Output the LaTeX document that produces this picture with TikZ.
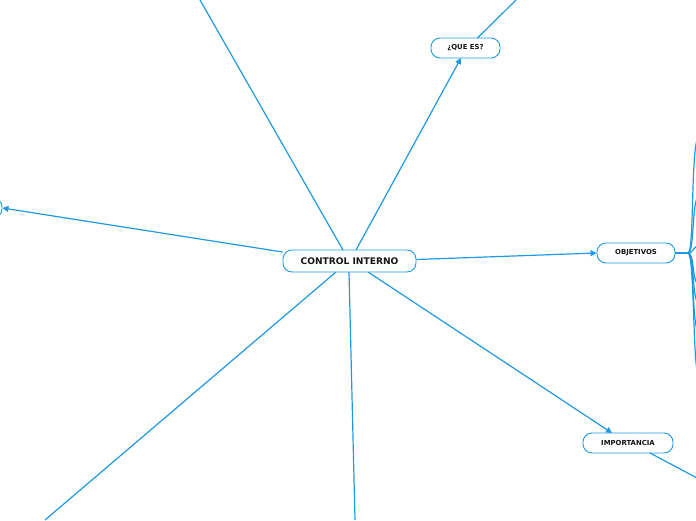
\documentclass[tikz,border=0pt]{standalone}
\usepackage{fontspec}
\setmainfont{DejaVu Sans}
\usetikzlibrary{arrows.meta}
\definecolor{lineblue}{RGB}{30,152,226}
\definecolor{txt}{RGB}{20,20,20}
\tikzset{
  topic/.style={draw=lineblue, line width=0.9pt, rounded corners=9pt, fill=white,
    text=txt, font=\bfseries\fontsize{6.9}{7}\selectfont, minimum height=20pt, inner xsep=0pt},
  conn/.style={draw=lineblue, line width=1.2pt},
  arr/.style={conn, -{Triangle[length=6pt,width=6pt]}},
}
\begin{document}
\begin{tikzpicture}[x=1pt,y=-1pt]
\useasboundingbox (0,0) rectangle (696,520);
\node[topic, minimum width=133pt, minimum height=22pt, font=\bfseries\fontsize{9.1}{10}\selectfont] (ci) at (349.5,261) {CONTROL INTERNO};
\node[topic, minimum width=69pt] (que) at (465.5,48) {¿QUE ES?};
\node[topic, minimum width=78pt] (obj) at (636,253) {OBJETIVOS};
\node[topic, minimum width=90pt] (imp) at (628,443) {IMPORTANCIA};
\node[topic, minimum width=80pt] (left) at (-38,208) {};
\coordinate (tl) at (200,0);
\coordinate (qtop) at (516,0);
\coordinate (bl) at (45,520);
\coordinate (bm) at (355,520);
\coordinate (impout) at (697,478);
\coordinate (fork) at (688,253);
% connectors
\draw[arr] (356,250) -- (461,58);
\draw[conn] (que) ++(12,-10) -- (qtop);
\draw[arr] (ci.east) ++(0,-1.5) -- (obj.west);
\draw[arr] (368,272) -- (612,433);
\draw[conn] (650,453) -- (impout);
\draw[arr] (ci.west) ++(0,-9) -- (left.east);
\draw[conn] (343,250) -- (tl);
\draw[conn] (336,272) -- (bl);
\draw[conn] (349,272) -- (bm);
% objetivos branches
\draw[conn] (obj.east) -- (fork);
\draw[conn] (fork) .. controls (694,253) and (691,160) .. (697,140);
\draw[conn] (fork) .. controls (694,253) and (692,210) .. (697,198);
\draw[conn] (fork) .. controls (693,253) and (693,248) .. (697,246);
\draw[conn] (fork) .. controls (694,253) and (692,275) .. (697,284);
\draw[conn] (fork) .. controls (694,253) and (692,290) .. (697,302);
\draw[conn] (fork) .. controls (694,253) and (692,315) .. (697,330);
\draw[conn] (fork) .. controls (694,253) and (693,350) .. (697,370);
\end{tikzpicture}
\end{document}
